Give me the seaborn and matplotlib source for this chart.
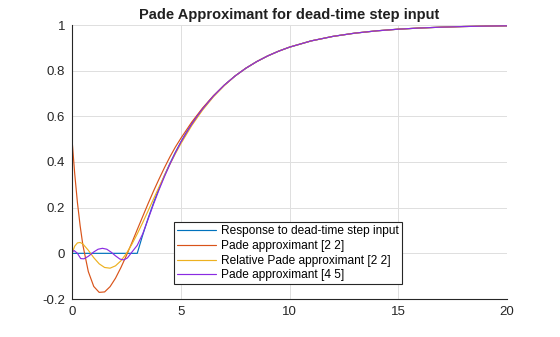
import numpy as np
import pandas as pd
import matplotlib
matplotlib.use("Agg")
import matplotlib.pyplot as plt
import seaborn as sns

# ---------------- data ----------------
title = "Pade Approximant for dead-time step input"
labels = ["Response to dead-time step input", "Pade approximant [2 2]",
          "Relative Pade approximant [2 2]", "Pade approximant [4 5]"]
colors = ["#0072BD", "#D95319", "#EDB120", "#8A2BE2"]

# common tail where all curves coincide
t_tail = [7.5, 8, 8.5, 9, 9.5, 10, 11, 12, 13, 14, 15, 16, 17, 18, 19, 20]
y_tail = [0.7769, 0.8111, 0.8401, 0.8647, 0.8854, 0.9030, 0.9305, 0.9502,
          0.9643, 0.9744, 0.9817, 0.9869, 0.9906, 0.9933, 0.9952, 0.9965]

t_resp = [0, 3, 3.25, 3.5, 3.75, 4, 4.25, 4.5, 4.75, 5, 5.25, 5.5, 5.75, 6, 6.5, 7]
y_resp = [0, 0, 0.0800, 0.1535, 0.2212, 0.2835, 0.3408, 0.3935, 0.4420, 0.4866,
          0.5276, 0.5654, 0.6002, 0.6321, 0.6886, 0.7364]

t_p22 = [0, 0.125, 0.25, 0.375, 0.5, 0.75, 1, 1.25, 1.5, 1.75, 2, 2.25, 2.5, 2.75,
         3, 3.25, 3.5, 3.75, 4, 4.25, 4.5, 4.75, 5, 5.5, 6, 6.5, 7]
y_p22 = [0.5, 0.348, 0.222, 0.120, 0.036, -0.080, -0.145, -0.171, -0.169, -0.146,
         -0.109, -0.062, -0.010, 0.046, 0.104, 0.161, 0.218, 0.273, 0.325, 0.375,
         0.422, 0.465, 0.503, 0.574, 0.636, 0.690, 0.7364]

t_rel = [0, 0.125, 0.25, 0.375, 0.5, 0.75, 1, 1.25, 1.5, 1.75, 2, 2.25, 2.5, 2.75,
         3, 3.25, 3.5, 3.75, 4, 4.25, 4.5, 4.75, 5, 5.5, 6, 6.5, 7]
y_rel = [0, 0.0314, 0.0457, 0.0476, 0.0410, 0.0135, -0.0190, -0.0460, -0.0620,
         -0.0650, -0.0547, -0.0327, -0.0006, 0.0394, 0.0851, 0.1345, 0.1862,
         0.2384, 0.2902, 0.3408, 0.3894, 0.4359, 0.4794, 0.5588, 0.6271, 0.6852,
         0.7344]

t_p45 = [0, 0.1, 0.25, 0.4, 0.55, 0.75, 1, 1.2, 1.4, 1.6, 1.8, 2.0, 2.2, 2.38,
         2.55, 2.75, 3.0, 3.25, 3.5, 3.75, 4, 4.25, 4.5, 4.75, 5, 5.25, 5.5, 5.75,
         6, 6.5, 7]
y_p45 = [0.006, 0.012, 0.0, -0.023, -0.024, -0.013, 0.006, 0.018, 0.022, 0.018,
         0.005, -0.011, -0.025, -0.029, -0.020, 0.005, 0.035, 0.085, 0.150, 0.216,
         0.278, 0.336, 0.390, 0.440, 0.486, 0.527, 0.565, 0.600, 0.632, 0.6886,
         0.7364]

xticks = [0, 5, 10, 15, 20]
yticks = [-0.2, 0, 0.2, 0.4, 0.6, 0.8, 1]
ytick_labels = ["-0.2", "0", "0.2", "0.4", "0.6", "0.8", "1"]

# ---------------- plotting ----------------
sns.set_theme(style="white")
plt.rcParams["font.family"] = ["Liberation Sans", "DejaVu Sans"]

fig = plt.figure(figsize=(5.6, 3.37), dpi=100)
ax = fig.add_axes([72 / 560, 1 - 299 / 337, 435 / 560, 274 / 337])

series = [(t_resp, y_resp), (t_p22, y_p22), (t_rel, y_rel), (t_p45, y_p45)]
for (tt, yy), lab, col in zip(series, labels, colors):
    df = pd.DataFrame({"t": list(tt) + t_tail, "y": list(yy) + y_tail})
    sns.lineplot(data=df, x="t", y="y", ax=ax, color=col, lw=0.85,
                 label=lab, estimator=None, sort=False)

ax.set_xlim(0, 20)
ax.set_ylim(-0.2, 1)
ax.set_xticks(xticks)
ax.set_xticklabels([str(v) for v in xticks])
ax.set_yticks(yticks)
ax.set_yticklabels(ytick_labels)
ax.set_xlabel("")
ax.set_ylabel("")

ax.grid(True, color="#dfdfdf", lw=0.7)
ax.set_axisbelow(True)
for s in ["top", "right"]:
    ax.spines[s].set_visible(False)
for s in ["left", "bottom"]:
    ax.spines[s].set_color("#262626")
    ax.spines[s].set_linewidth(0.8)
ax.tick_params(direction="in", length=3.5, width=0.7, color="#262626",
               labelcolor="#262626", labelsize=9.5, pad=5)

ax.set_title(title, fontsize=10.5, fontweight="bold", color="#202020", pad=4)

leg = ax.legend(loc="lower left", bbox_to_anchor=(0.2345, 0.0536),
                borderaxespad=0, fontsize=8.6, frameon=True, fancybox=False,
                framealpha=1, edgecolor="#262626", handlelength=3.3,
                handletextpad=0.4, borderpad=0.25, labelspacing=0.22)
leg.get_frame().set_linewidth(0.8)
for txt in leg.get_texts():
    txt.set_color("#000000")

fig.savefig("out.png", dpi=100)
